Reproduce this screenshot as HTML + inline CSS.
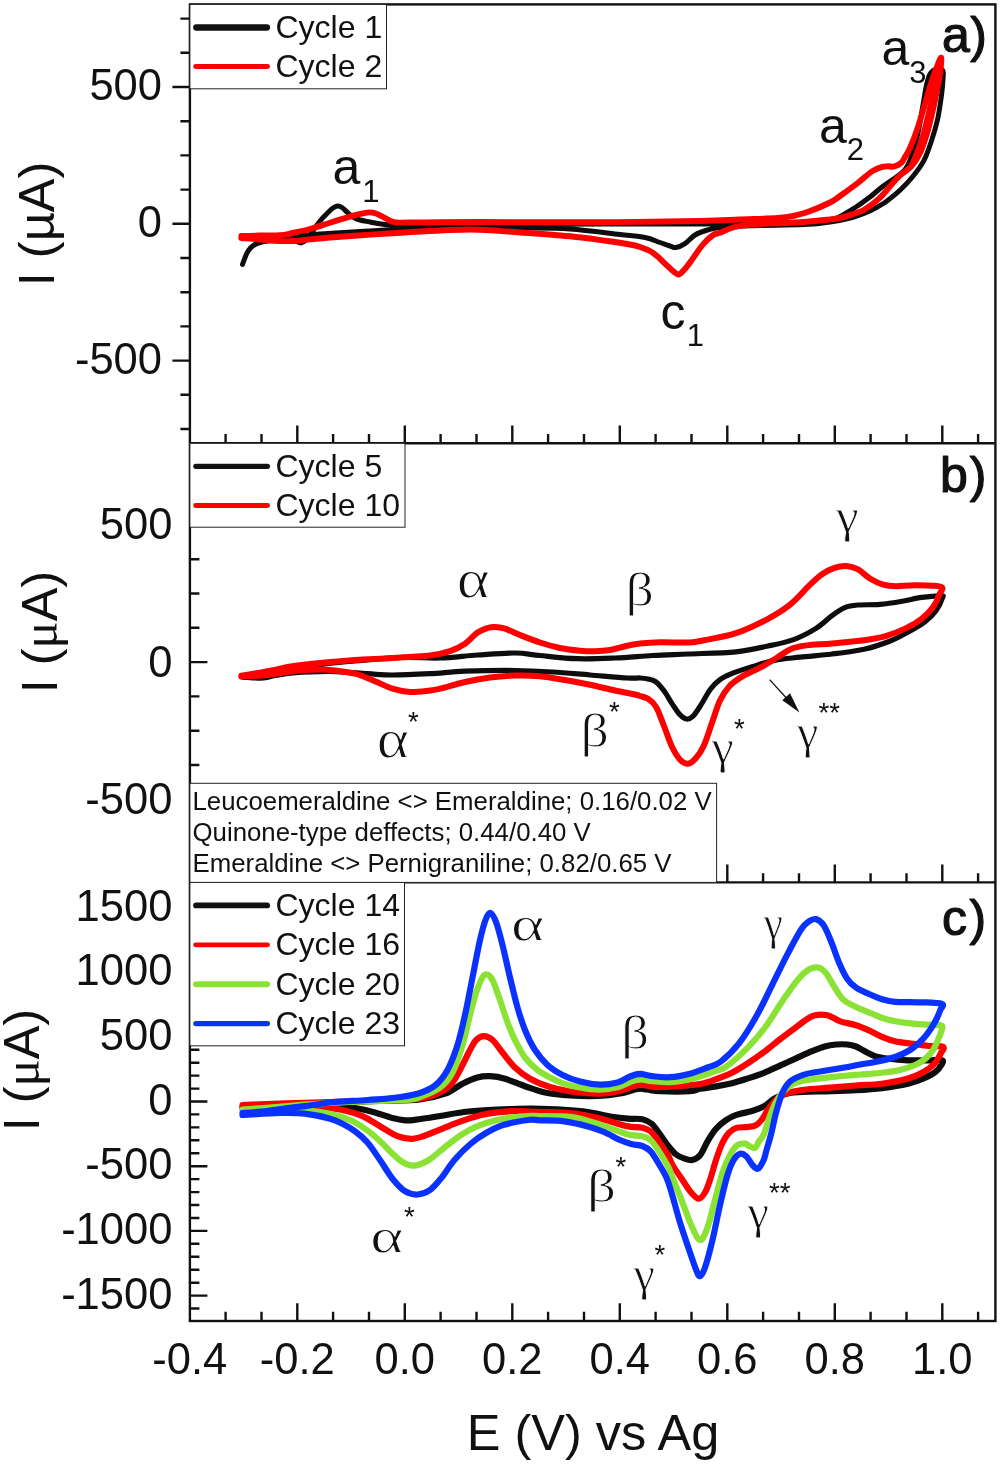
<!DOCTYPE html>
<html lang="en"><head><meta charset="utf-8"><title>Cyclic voltammetry</title>
<style>html,body{margin:0;padding:0;background:#fff}body{width:1000px;height:1466px;overflow:hidden}svg{display:block}text{font-family:"Liberation Sans",sans-serif;fill:#111}.sym{font-family:"Liberation Serif","DejaVu Serif",serif}.c{fill:none;stroke-linejoin:round;stroke-linecap:round}</style></head><body>
<svg width="1000" height="1466" viewBox="0 0 1000 1466">
<rect width="1000" height="1466" fill="#fff"/>
<path class="c" d="M242.5 264.5C242.8 263.6 243.8 260.9 244.5 259.0C245.2 257.1 246.0 254.8 247.0 253.0C248.0 251.2 249.2 249.4 250.5 248.0C251.8 246.6 253.1 245.5 255.0 244.5C256.9 243.5 259.2 242.7 262.0 242.0C264.8 241.3 268.2 240.9 272.0 240.5C275.8 240.1 281.3 239.5 285.0 239.5C288.7 239.5 291.3 239.9 294.0 240.5C296.7 241.1 299.0 243.1 301.0 243.0C303.0 242.9 304.2 241.8 306.0 240.0C307.8 238.2 309.7 235.2 312.0 232.0C314.3 228.8 317.3 224.2 320.0 221.0C322.7 217.8 325.8 214.7 328.0 212.5C330.2 210.3 331.4 209.1 333.0 208.0C334.6 206.9 336.0 206.1 337.5 206.0C339.0 205.9 340.3 206.4 342.0 207.5C343.7 208.6 345.7 210.9 347.5 212.5C349.3 214.1 350.9 215.8 353.0 217.0C355.1 218.2 357.2 219.2 360.0 220.0C362.8 220.8 365.8 221.2 370.0 222.0C374.2 222.8 379.2 223.9 385.0 224.5C390.8 225.1 395.8 225.4 405.0 225.5C414.2 225.6 427.5 225.2 440.0 225.0C452.5 224.8 453.3 224.7 480.0 224.5C506.7 224.3 563.3 224.1 600.0 224.0C636.7 223.9 670.0 224.0 700.0 224.0C730.0 224.0 760.5 224.1 780.0 224.0C799.5 223.9 807.8 224.1 817.0 223.3C826.2 222.5 828.5 221.7 835.0 219.0C841.5 216.3 850.2 210.7 856.0 207.0C861.8 203.3 865.7 200.3 870.0 197.0C874.3 193.7 877.8 190.2 882.0 187.0C886.2 183.8 891.1 181.0 895.0 178.0C898.9 175.0 902.6 172.8 905.4 169.0C908.2 165.2 909.8 161.3 912.0 155.0C914.2 148.7 916.6 139.3 918.4 131.0C920.2 122.7 921.6 112.7 923.0 105.0C924.4 97.3 925.3 90.2 926.5 85.0C927.7 79.8 928.4 76.7 930.0 74.0C931.6 71.3 933.9 69.7 936.0 69.0C938.1 68.3 941.3 68.8 942.5 70.0C943.7 71.2 943.4 71.8 943.2 76.0C943.0 80.2 942.5 88.0 941.5 95.3C940.5 102.6 939.2 112.2 937.5 119.8C935.8 127.4 933.8 133.9 931.5 140.7C929.2 147.5 927.1 154.5 924.0 160.4C920.9 166.3 916.9 171.4 913.0 176.3C909.1 181.2 904.8 185.7 900.5 189.8C896.2 193.9 891.2 197.8 887.0 200.9C882.8 204.0 878.7 206.2 875.0 208.3C871.3 210.4 868.4 211.7 864.6 213.2C860.8 214.7 858.1 216.0 852.3 217.5C846.5 219.0 838.0 220.8 830.0 222.0C822.0 223.2 815.7 224.0 804.0 224.6C792.3 225.2 772.3 225.2 760.0 225.5C747.7 225.8 736.7 226.2 730.0 226.5C723.3 226.8 723.8 226.9 720.0 227.5C716.2 228.1 711.7 228.8 707.5 230.0C703.3 231.2 698.8 232.7 695.0 235.0C691.2 237.3 688.2 241.6 685.0 243.7C681.8 245.8 678.5 247.1 676.0 247.5C673.5 247.9 672.7 246.8 670.0 246.0C667.3 245.2 664.2 243.9 660.0 242.5C655.8 241.1 651.7 238.8 645.0 237.5C638.3 236.2 632.5 235.9 620.0 234.5C607.5 233.1 586.7 230.1 570.0 229.0C553.3 227.9 536.7 228.2 520.0 228.0C503.3 227.8 488.3 227.4 470.0 227.5C451.7 227.6 428.3 228.0 410.0 228.7C391.7 229.4 376.2 230.5 360.0 231.5C343.8 232.5 322.5 233.8 312.5 234.5C302.5 235.2 304.6 235.3 300.0 236.0C295.4 236.7 290.0 237.9 285.0 238.5C280.0 239.1 277.0 239.6 270.0 239.5C263.0 239.4 247.5 238.2 243.0 238.0" stroke="#0d0d0d" stroke-width="5"/>
<path class="c" d="M241.3 236.0C244.4 235.9 253.6 235.6 260.0 235.5C266.4 235.4 274.6 235.7 280.0 235.3C285.4 234.9 287.5 234.1 292.5 233.0C297.5 231.9 303.8 230.7 310.0 229.0C316.2 227.3 324.2 224.5 330.0 222.7C335.8 220.9 340.8 219.4 345.0 218.2C349.2 216.9 352.0 216.0 355.0 215.2C358.0 214.4 360.5 213.8 363.0 213.3C365.5 212.8 367.8 212.4 370.0 212.4C372.2 212.4 374.2 212.9 376.0 213.5C377.8 214.1 379.3 215.0 381.0 215.8C382.7 216.6 384.3 217.6 386.0 218.5C387.7 219.4 389.2 220.6 391.0 221.3C392.8 222.0 393.8 222.3 397.0 222.5C400.2 222.7 396.2 222.6 410.0 222.5C423.8 222.4 448.3 222.0 480.0 222.0C511.7 222.0 563.3 222.5 600.0 222.3C636.7 222.1 676.7 221.5 700.0 221.0C723.3 220.5 727.0 220.0 740.0 219.5C753.0 219.0 768.8 218.7 778.0 218.0C787.2 217.3 789.8 216.6 795.0 215.5C800.2 214.4 803.2 213.8 809.0 211.6C814.8 209.4 824.8 205.1 830.0 202.5C835.2 199.9 835.3 199.3 840.0 196.0C844.7 192.7 853.1 186.6 858.4 182.5C863.7 178.4 868.1 174.0 872.0 171.4C875.9 168.8 879.1 167.9 881.8 167.1C884.5 166.2 886.0 166.4 888.0 166.3C890.0 166.2 891.8 167.1 894.0 166.5C896.2 165.9 899.6 164.4 901.4 162.8C903.2 161.2 903.6 159.5 905.0 157.0C906.4 154.5 907.9 152.8 910.0 148.0C912.1 143.2 915.0 135.8 917.5 128.4C920.0 121.1 922.6 111.9 925.0 103.9C927.4 95.9 929.8 87.3 932.0 80.5C934.2 73.7 936.8 67.0 938.3 63.3C939.8 59.6 941.1 56.1 941.3 58.4C941.5 60.6 940.4 70.6 939.5 76.8C938.6 83.0 937.2 89.1 936.0 95.3C934.8 101.5 933.5 107.4 932.0 113.7C930.5 120.0 929.0 126.8 927.0 133.3C925.0 139.9 922.6 147.5 920.0 153.0C917.4 158.5 914.7 162.6 911.2 166.5C907.7 170.4 902.7 172.8 899.0 176.3C895.3 179.8 892.4 183.7 889.1 187.4C885.8 191.1 883.4 194.7 879.3 198.4C875.2 202.1 869.1 206.8 864.6 209.5C860.1 212.2 856.4 213.0 852.3 214.4C848.2 215.8 843.7 217.2 840.0 218.0C836.3 218.8 836.0 218.7 830.0 219.4C824.0 220.1 817.0 221.1 804.0 222.0C791.0 222.9 763.5 223.8 752.0 224.6C740.5 225.4 740.2 225.7 735.0 227.0C729.8 228.3 724.5 231.0 720.8 232.4C717.0 233.8 715.5 233.4 712.5 235.5C709.5 237.6 706.2 240.5 702.5 245.0C698.8 249.5 693.1 258.3 690.0 262.5C686.9 266.7 685.9 268.0 684.0 270.0C682.1 272.0 680.5 274.3 678.7 274.5C676.9 274.7 675.3 272.8 673.0 271.0C670.7 269.2 667.7 266.2 665.0 263.7C662.3 261.2 659.5 258.1 657.0 256.0C654.5 253.9 652.8 252.5 650.0 251.0C647.2 249.5 642.9 248.0 640.0 247.0C637.1 246.0 637.9 246.0 632.5 245.0C627.1 244.0 617.9 242.4 607.5 241.0C597.1 239.6 584.6 237.7 570.0 236.3C555.4 234.9 536.7 233.6 520.0 232.5C503.3 231.4 489.2 229.5 470.0 229.5C450.8 229.5 428.3 231.2 405.0 232.5C381.7 233.8 348.8 236.1 330.0 237.5C311.2 238.9 302.5 240.5 292.5 241.0C282.5 241.5 276.2 240.8 270.0 240.5C263.8 240.2 259.8 239.4 255.0 239.0C250.2 238.6 243.6 238.2 241.3 238.0" stroke="#ff0000" stroke-width="5.9"/>
<path class="c" d="M941.0 60.0C940.7 61.3 939.8 65.0 939.0 68.0C938.2 71.0 937.1 73.5 936.0 78.0C934.9 82.5 933.8 89.3 932.5 95.3C931.2 101.2 930.0 107.4 928.5 113.7C927.0 120.0 925.2 127.3 923.5 133.3C921.8 139.4 920.0 144.5 918.0 150.0C916.0 155.5 912.3 163.8 911.2 166.5" stroke="#ff0000" stroke-width="5.5"/>
<path class="c" d="M241.3 677.0C243.6 677.2 250.7 677.9 255.0 678.0C259.3 678.1 260.8 678.8 267.0 677.5C273.2 676.2 284.1 672.1 292.5 670.0C300.9 667.9 307.1 666.5 317.5 665.0C327.9 663.5 341.2 662.2 355.0 661.0C368.8 659.8 385.8 658.0 400.0 657.5C414.2 657.0 427.1 658.4 440.0 658.0C452.9 657.6 465.0 655.8 477.5 655.0C490.0 654.2 504.6 652.9 515.0 653.0C525.4 653.1 529.6 654.5 540.0 655.5C550.4 656.5 565.0 658.3 577.5 658.7C590.0 659.1 602.5 658.5 615.0 658.0C627.5 657.5 640.3 656.2 652.5 655.5C664.7 654.8 674.1 654.6 688.0 654.0C701.9 653.4 722.7 653.1 736.0 651.8C749.3 650.5 758.4 648.0 768.0 646.0C777.6 644.0 785.6 642.5 793.6 639.6C801.6 636.7 809.6 632.4 816.0 628.4C822.4 624.4 827.2 619.1 832.0 615.6C836.8 612.1 840.5 609.4 844.8 607.6C849.1 605.8 851.7 605.5 857.6 605.0C863.5 604.5 872.5 605.0 880.0 604.4C887.5 603.8 895.5 602.4 902.4 601.2C909.3 600.0 915.2 598.3 921.6 597.4C928.0 596.5 937.3 595.7 940.8 595.8C944.3 595.9 943.2 595.5 942.4 598.0C941.6 600.5 938.9 606.8 936.0 610.8C933.1 614.8 929.3 618.5 924.8 622.0C920.3 625.5 914.7 628.4 908.8 631.6C902.9 634.8 897.1 638.3 889.6 641.2C882.1 644.1 873.6 647.1 864.0 649.2C854.4 651.3 842.7 652.7 832.0 654.0C821.3 655.3 809.6 656.1 800.0 657.2C790.4 658.3 782.4 658.8 774.4 660.4C766.4 662.0 758.9 664.7 752.0 666.8C745.1 668.9 738.1 671.1 732.8 673.2C727.5 675.3 723.7 676.9 720.0 679.6C716.3 682.3 713.6 684.9 710.4 689.2C707.2 693.5 703.7 700.7 700.8 705.2C697.9 709.7 695.2 714.1 692.8 716.4C690.4 718.7 688.5 719.3 686.4 719.0C684.3 718.7 682.4 717.4 680.0 714.8C677.6 712.2 674.7 707.6 672.0 703.6C669.3 699.6 666.7 694.4 664.0 690.8C661.3 687.2 658.7 683.8 656.0 681.8C653.3 679.8 650.7 679.6 648.0 679.0C645.3 678.4 643.4 678.2 640.0 678.0C636.6 677.8 635.8 678.5 627.5 678.0C619.2 677.5 602.5 676.0 590.0 675.0C577.5 674.0 565.0 672.8 552.5 672.0C540.0 671.2 529.6 670.6 515.0 670.5C500.4 670.4 479.2 670.7 465.0 671.2C450.8 671.7 442.1 673.1 430.0 673.7C417.9 674.3 402.9 675.0 392.5 675.0C382.1 675.0 377.9 674.3 367.5 673.7C357.1 673.1 342.5 671.6 330.0 671.5C317.5 671.4 302.9 672.2 292.5 673.0C282.1 673.8 276.0 675.8 267.5 676.5C259.0 677.2 245.7 676.9 241.3 677.0" stroke="#0d0d0d" stroke-width="5.2"/>
<path class="c" d="M241.3 675.7C245.7 675.0 259.0 672.8 267.5 671.2C276.0 669.6 284.2 667.5 292.5 666.2C300.8 664.9 307.1 664.2 317.5 663.2C327.9 662.2 342.5 660.9 355.0 660.0C367.5 659.1 380.0 658.8 392.5 658.0C405.0 657.2 420.4 656.6 430.0 655.5C439.6 654.4 444.2 653.2 450.0 651.2C455.8 649.2 460.4 646.8 465.0 643.7C469.6 640.6 473.8 635.1 477.5 632.5C481.2 629.9 484.6 628.9 487.5 628.0C490.4 627.1 492.1 626.9 495.0 627.0C497.9 627.1 500.8 627.4 505.0 628.7C509.2 630.0 514.2 632.7 520.0 635.0C525.8 637.3 533.3 640.3 540.0 642.5C546.7 644.7 553.3 646.6 560.0 648.0C566.7 649.4 574.2 650.2 580.0 650.7C585.8 651.2 590.0 651.3 595.0 651.2C600.0 651.1 605.0 650.8 610.0 650.0C615.0 649.2 620.0 647.3 625.0 646.2C630.0 645.1 634.2 644.2 640.0 643.6C645.8 643.0 651.7 642.5 660.0 642.3C668.3 642.1 682.7 642.9 690.0 642.5C697.3 642.1 696.3 641.8 704.0 640.2C711.7 638.7 725.3 636.8 736.0 633.2C746.7 629.6 758.9 623.6 768.0 618.8C777.1 614.0 783.5 610.0 790.4 604.4C797.3 598.8 804.3 590.3 809.6 585.2C814.9 580.1 818.1 576.9 822.4 574.0C826.7 571.1 831.2 568.9 835.2 567.6C839.2 566.3 842.7 565.7 846.4 566.0C850.1 566.3 853.6 567.1 857.6 569.2C861.6 571.3 866.1 576.2 870.4 578.8C874.7 581.4 878.9 583.4 883.2 584.6C887.5 585.8 890.7 586.1 896.0 586.2C901.3 586.3 907.7 585.1 915.2 585.2C922.7 585.3 936.8 585.2 940.8 586.8C944.8 588.4 940.5 591.3 939.2 594.8C937.9 598.3 935.7 603.6 932.8 607.6C929.9 611.6 926.1 615.3 921.6 618.8C917.1 622.3 911.5 625.6 905.6 628.4C899.7 631.2 893.3 633.8 886.4 635.8C879.5 637.8 873.1 638.9 864.0 640.2C854.9 641.5 841.6 642.5 832.0 643.4C822.4 644.3 813.3 644.4 806.4 645.4C799.5 646.4 795.2 647.2 790.4 649.2C785.6 651.2 782.4 654.3 777.6 657.2C772.8 660.1 767.5 663.6 761.6 666.8C755.7 670.0 747.7 673.2 742.4 676.4C737.1 679.6 733.3 682.0 729.6 686.0C725.9 690.0 722.9 694.3 720.0 700.4C717.1 706.5 714.7 715.3 712.0 722.8C709.3 730.3 706.7 739.3 704.0 745.2C701.3 751.1 698.7 754.9 696.0 758.0C693.3 761.1 690.7 763.5 688.0 763.8C685.3 764.1 682.7 762.4 680.0 759.6C677.3 756.8 674.7 752.4 672.0 746.8C669.3 741.2 666.7 732.7 664.0 726.0C661.3 719.3 658.7 711.3 656.0 706.8C653.3 702.3 650.7 700.6 648.0 698.8C645.3 697.0 642.2 696.7 640.0 696.0C637.8 695.3 639.2 695.4 635.0 694.5C630.8 693.6 622.5 692.1 615.0 690.5C607.5 688.9 598.3 686.5 590.0 684.8C581.7 683.0 573.3 681.4 565.0 680.0C556.7 678.6 548.3 677.0 540.0 676.2C531.7 675.5 523.3 675.3 515.0 675.5C506.7 675.7 498.3 676.4 490.0 677.5C481.7 678.6 473.3 680.1 465.0 682.0C456.7 683.9 445.8 687.3 440.0 688.7C434.2 690.1 435.0 690.0 430.0 690.5C425.0 691.0 416.2 692.3 410.0 692.0C403.8 691.7 398.3 690.5 392.5 688.7C386.7 686.9 381.2 683.7 375.0 681.2C368.8 678.7 361.7 675.5 355.0 673.7C348.3 671.9 341.2 671.2 335.0 670.5C328.8 669.8 324.6 669.4 317.5 669.5C310.4 669.6 300.8 670.3 292.5 671.2C284.2 672.1 276.0 674.2 267.5 675.0C259.0 675.8 245.7 676.0 241.3 676.2" stroke="#ff0000" stroke-width="6"/>
<path d="M769.6 679.6L790 702" stroke="#111" stroke-width="1.3" fill="none"/><path d="M799.4 712.4L782.3 700.2L790 693.2Z" fill="#111"/>
<path class="c" d="M242.5 1107.0C248.8 1106.7 265.4 1105.8 280.0 1105.0C294.6 1104.2 313.3 1103.2 330.0 1102.5C346.7 1101.8 365.0 1101.5 380.0 1101.0C395.0 1100.5 409.2 1100.7 420.0 1099.5C430.8 1098.3 437.9 1096.3 445.0 1093.7C452.1 1091.1 457.1 1086.4 462.5 1083.7C467.9 1081.0 472.9 1078.8 477.5 1077.5C482.1 1076.2 485.4 1076.0 490.0 1076.2C494.6 1076.4 499.2 1077.0 505.0 1078.7C510.8 1080.4 518.3 1083.9 525.0 1086.2C531.7 1088.5 537.5 1091.0 545.0 1092.5C552.5 1094.0 561.2 1094.9 570.0 1095.5C578.8 1096.1 589.7 1096.3 598.0 1096.0C606.3 1095.7 613.4 1094.7 620.0 1093.5C626.6 1092.3 633.0 1089.7 637.5 1089.0C642.0 1088.3 643.2 1089.1 647.0 1089.5C650.8 1089.9 652.8 1090.9 660.0 1091.2C667.2 1091.5 683.3 1091.6 690.0 1091.2C696.7 1090.8 695.7 1089.6 700.0 1088.8C704.3 1088.0 710.7 1087.3 716.0 1086.4C721.3 1085.5 726.7 1084.5 732.0 1083.2C737.3 1081.9 742.7 1080.1 748.0 1078.4C753.3 1076.7 758.7 1074.9 764.0 1072.8C769.3 1070.7 774.7 1068.0 780.0 1065.6C785.3 1063.2 790.7 1060.8 796.0 1058.4C801.3 1056.0 807.2 1053.2 812.0 1051.2C816.8 1049.2 820.8 1047.5 824.8 1046.4C828.8 1045.3 832.3 1044.8 836.0 1044.5C839.7 1044.2 843.9 1044.2 847.2 1044.5C850.5 1044.8 853.4 1045.5 856.0 1046.5C858.6 1047.5 860.0 1048.7 863.0 1050.3C866.0 1051.9 870.2 1054.5 874.2 1055.9C878.2 1057.3 881.6 1057.8 887.2 1058.5C892.8 1059.2 901.1 1060.0 908.0 1060.3C914.9 1060.6 923.2 1060.3 928.8 1060.3C934.4 1060.3 939.6 1059.6 941.8 1060.3C944.0 1061.0 942.9 1062.2 941.8 1064.2C940.7 1066.2 938.3 1069.6 935.3 1072.0C932.3 1074.4 928.1 1076.5 923.6 1078.5C919.1 1080.5 914.9 1082.1 908.0 1083.7C901.1 1085.3 890.7 1087.0 882.0 1088.1C873.3 1089.2 866.8 1089.6 856.0 1090.2C845.2 1090.8 827.8 1091.1 817.0 1091.5C806.2 1091.9 797.9 1091.7 791.0 1092.8C784.1 1093.9 779.7 1095.8 775.4 1098.0C771.1 1100.2 768.9 1103.6 765.0 1105.8C761.1 1108.0 756.8 1109.5 752.0 1111.0C747.2 1112.5 740.7 1113.4 736.4 1114.9C732.1 1116.4 729.5 1117.7 726.0 1120.1C722.5 1122.5 718.6 1125.7 715.6 1129.2C712.6 1132.7 710.4 1136.6 707.8 1140.9C705.2 1145.2 702.6 1152.0 700.0 1155.2C697.4 1158.4 694.7 1159.5 692.0 1160.0C689.3 1160.5 686.7 1159.3 684.0 1158.4C681.3 1157.5 678.7 1156.5 676.0 1154.4C673.3 1152.3 670.7 1148.9 668.0 1145.6C665.3 1142.3 662.7 1138.0 660.0 1134.4C657.3 1130.8 654.9 1126.5 652.0 1124.0C649.1 1121.5 646.4 1120.1 642.4 1119.2C638.4 1118.3 633.1 1119.1 628.0 1118.7C622.9 1118.3 618.7 1117.9 612.0 1116.8C605.3 1115.7 596.0 1113.2 588.0 1112.0C580.0 1110.8 573.2 1110.3 564.0 1109.8C554.8 1109.2 541.2 1108.8 532.5 1108.7C523.8 1108.6 519.4 1108.9 512.0 1109.1C504.6 1109.3 496.0 1109.5 488.0 1110.0C480.0 1110.5 472.0 1111.0 464.0 1112.0C456.0 1113.0 448.0 1114.7 440.0 1116.0C432.0 1117.3 421.8 1119.0 416.0 1119.7C410.2 1120.4 408.9 1120.6 405.0 1120.3C401.1 1120.0 397.5 1119.3 392.5 1118.0C387.5 1116.7 381.2 1114.2 375.0 1112.5C368.8 1110.8 362.5 1109.2 355.0 1108.0C347.5 1106.8 340.8 1105.8 330.0 1105.5C319.2 1105.2 304.6 1105.6 290.0 1106.0C275.4 1106.4 250.4 1107.7 242.5 1108.0" stroke="#0d0d0d" stroke-width="6.2"/>
<path class="c" d="M242.5 1105.0C248.8 1104.8 265.4 1104.0 280.0 1103.5C294.6 1103.0 313.3 1102.5 330.0 1102.0C346.7 1101.5 365.0 1101.0 380.0 1100.5C395.0 1100.0 410.0 1100.0 420.0 1098.7C430.0 1097.4 434.6 1095.2 440.0 1092.5C445.4 1089.8 448.8 1087.1 452.5 1082.5C456.2 1077.9 459.6 1070.4 462.5 1065.0C465.4 1059.6 467.7 1054.2 470.0 1050.0C472.3 1045.8 473.9 1042.3 476.2 1040.0C478.5 1037.7 481.0 1036.2 483.7 1036.2C486.4 1036.2 489.4 1037.3 492.5 1040.0C495.6 1042.7 498.8 1047.9 502.5 1052.5C506.2 1057.1 510.4 1063.1 515.0 1067.5C519.6 1071.9 524.2 1075.5 530.0 1078.7C535.8 1082.0 542.5 1084.8 550.0 1087.0C557.5 1089.2 566.7 1090.9 575.0 1092.0C583.3 1093.1 592.5 1093.8 600.0 1093.6C607.5 1093.4 614.6 1092.2 620.0 1091.0C625.4 1089.8 628.8 1087.5 632.5 1086.5C636.2 1085.5 638.8 1084.9 642.5 1085.0C646.2 1085.1 649.2 1086.8 655.0 1087.0C660.8 1087.2 670.0 1086.7 677.5 1086.2C685.0 1085.7 693.6 1085.2 700.0 1084.0C706.4 1082.8 710.7 1081.1 716.0 1079.2C721.3 1077.3 726.7 1075.5 732.0 1072.8C737.3 1070.1 742.7 1066.7 748.0 1063.2C753.3 1059.7 758.7 1056.0 764.0 1052.0C769.3 1048.0 774.7 1043.3 780.0 1039.2C785.3 1035.1 791.7 1030.4 796.0 1027.2C800.3 1024.0 802.8 1021.8 806.0 1019.8C809.2 1017.8 811.4 1016.0 815.0 1015.2C818.6 1014.5 823.2 1014.3 827.4 1015.3C831.6 1016.3 835.6 1019.6 840.4 1021.3C845.2 1022.9 851.2 1023.7 856.0 1025.2C860.8 1026.7 864.7 1028.5 869.0 1030.4C873.3 1032.4 877.7 1035.1 882.0 1036.9C886.3 1038.7 889.8 1040.1 895.0 1041.3C900.2 1042.5 907.6 1043.1 913.2 1043.9C918.8 1044.7 923.8 1045.5 928.8 1046.0C933.8 1046.5 941.1 1045.5 943.1 1046.8C945.1 1048.1 942.0 1050.9 940.5 1053.8C939.0 1056.7 936.8 1061.2 934.0 1064.2C931.2 1067.2 927.9 1069.6 923.6 1072.0C919.3 1074.4 914.9 1076.5 908.0 1078.5C901.1 1080.5 890.7 1082.5 882.0 1083.7C873.3 1084.9 864.7 1084.8 856.0 1085.5C847.3 1086.2 838.7 1086.9 830.0 1087.6C821.3 1088.3 810.9 1088.8 804.0 1089.7C797.1 1090.6 792.7 1091.4 788.4 1092.8C784.1 1094.2 781.2 1095.4 778.0 1098.0C774.8 1100.6 771.5 1104.9 768.9 1108.4C766.3 1111.9 764.6 1116.0 762.4 1118.8C760.2 1121.6 758.5 1123.9 755.9 1125.3C753.3 1126.7 750.0 1126.7 746.8 1127.1C743.5 1127.5 739.4 1126.9 736.4 1127.9C733.4 1128.9 731.0 1130.5 728.6 1133.1C726.2 1135.7 724.2 1139.0 722.1 1143.5C720.0 1148.0 718.0 1153.9 716.0 1160.0C714.0 1166.1 711.8 1174.6 710.0 1180.0C708.2 1185.4 706.9 1189.4 705.0 1192.5C703.1 1195.6 701.0 1198.7 698.7 1198.7C696.4 1198.7 693.9 1195.6 691.2 1192.5C688.5 1189.4 685.6 1184.6 682.5 1180.0C679.4 1175.4 674.9 1169.1 672.5 1165.0C670.1 1160.9 670.4 1159.2 668.0 1155.2C665.6 1151.2 661.3 1144.8 658.4 1140.8C655.5 1136.8 653.1 1133.4 650.4 1131.2C647.7 1129.0 646.1 1128.5 642.4 1127.7C638.7 1126.9 633.1 1127.4 628.0 1126.4C622.9 1125.5 617.3 1123.5 612.0 1122.0C606.7 1120.5 602.7 1119.0 596.0 1117.6C589.3 1116.1 581.3 1114.2 572.0 1113.3C562.7 1112.4 550.0 1112.3 540.0 1112.0C530.0 1111.7 520.7 1110.9 512.0 1111.2C503.3 1111.5 494.7 1112.5 488.0 1113.6C481.3 1114.7 477.3 1116.0 472.0 1117.6C466.7 1119.2 461.3 1121.2 456.0 1123.2C450.7 1125.2 445.3 1127.5 440.0 1129.6C434.7 1131.7 428.8 1134.5 424.0 1136.0C419.2 1137.5 415.6 1138.9 411.2 1138.9C406.8 1138.9 402.7 1138.3 397.5 1136.2C392.3 1134.1 385.8 1129.5 380.0 1126.2C374.2 1122.9 368.8 1118.9 362.5 1116.2C356.2 1113.5 350.0 1111.5 342.5 1110.0C335.0 1108.5 327.9 1108.1 317.5 1107.5C307.1 1106.9 292.5 1106.8 280.0 1106.5C267.5 1106.2 248.8 1106.1 242.5 1106.0" stroke="#ff0000" stroke-width="6.2"/>
<path class="c" d="M242.5 1109.5C247.1 1109.2 259.6 1108.3 270.0 1107.5C280.4 1106.7 291.7 1105.4 305.0 1104.5C318.3 1103.6 333.3 1102.8 350.0 1102.0C366.7 1101.2 393.3 1100.8 405.0 1100.0C416.7 1099.2 414.2 1099.1 420.0 1097.0C425.8 1094.9 434.6 1091.6 440.0 1087.5C445.4 1083.4 448.8 1079.6 452.5 1072.5C456.2 1065.4 459.6 1054.6 462.5 1045.0C465.4 1035.4 467.7 1023.8 470.0 1015.0C472.3 1006.2 474.1 998.8 476.2 992.5C478.3 986.2 480.7 980.5 482.5 977.5C484.3 974.5 485.3 974.1 487.0 974.5C488.7 974.9 490.3 975.8 492.5 980.0C494.7 984.2 497.5 992.9 500.0 1000.0C502.5 1007.1 505.0 1015.8 507.5 1022.5C510.0 1029.2 512.1 1034.2 515.0 1040.0C517.9 1045.8 521.2 1052.5 525.0 1057.5C528.8 1062.5 532.9 1066.5 537.5 1070.0C542.1 1073.5 547.1 1076.1 552.5 1078.7C557.9 1081.3 562.6 1083.7 570.0 1085.5C577.4 1087.3 589.1 1089.2 597.0 1089.5C604.9 1089.8 612.0 1088.5 617.5 1087.2C623.0 1086.0 626.2 1083.3 630.0 1082.0C633.8 1080.7 636.2 1079.6 640.0 1079.5C643.8 1079.4 647.1 1080.8 652.5 1081.2C657.9 1081.6 665.4 1082.5 672.5 1082.0C679.6 1081.5 687.9 1079.8 695.0 1078.0C702.1 1076.2 709.8 1073.1 715.0 1071.2C720.2 1069.3 720.7 1070.6 726.0 1066.8C731.3 1063.0 740.3 1055.1 746.8 1048.6C753.3 1042.0 758.9 1035.6 765.0 1027.5C771.1 1019.4 777.6 1008.0 783.2 999.8C788.8 991.6 794.5 983.5 798.8 978.4C803.1 973.3 806.0 971.1 809.2 969.3C812.5 967.5 815.5 966.9 818.3 967.5C821.1 968.1 823.5 970.1 826.1 973.2C828.7 976.3 831.1 981.9 833.9 986.2C836.7 990.5 839.3 995.7 843.0 999.2C846.7 1002.7 851.2 1004.6 856.0 1007.0C860.8 1009.4 866.4 1011.4 871.6 1013.5C876.8 1015.6 881.1 1017.9 887.2 1019.5C893.3 1021.1 901.1 1022.2 908.0 1023.1C914.9 1024.0 923.2 1024.3 928.8 1024.7C934.4 1025.1 939.8 1024.5 941.8 1025.7C943.8 1026.9 941.6 1029.6 941.0 1032.0C940.4 1034.4 939.3 1037.0 938.0 1040.0C936.7 1043.0 935.2 1046.8 933.0 1050.0C930.8 1053.2 928.0 1056.5 925.0 1059.0C922.0 1061.5 919.2 1063.2 915.0 1065.0C910.8 1066.8 905.8 1068.7 900.0 1070.0C894.2 1071.3 886.7 1072.2 880.0 1073.0C873.3 1073.8 866.2 1074.0 860.0 1074.5C853.8 1075.0 851.5 1075.1 843.0 1076.0C834.5 1076.9 817.4 1078.5 809.2 1079.8C801.0 1081.1 797.9 1081.8 793.6 1083.7C789.3 1085.7 786.2 1088.2 783.2 1091.5C780.2 1094.8 777.8 1098.7 775.4 1103.2C773.0 1107.8 770.8 1113.6 768.9 1118.8C767.0 1124.0 765.4 1130.5 763.7 1134.4C762.0 1138.3 760.0 1139.9 758.5 1142.2C757.0 1144.5 756.5 1147.3 755.0 1148.0C753.5 1148.7 751.1 1146.8 749.4 1146.1C747.7 1145.4 747.0 1143.9 745.0 1143.7C743.0 1143.5 740.0 1143.1 737.5 1145.0C735.0 1146.9 732.5 1150.4 730.0 1155.0C727.5 1159.6 725.0 1165.0 722.5 1172.5C720.0 1180.0 717.5 1190.8 715.0 1200.0C712.5 1209.2 710.0 1220.8 707.5 1227.5C705.0 1234.2 702.7 1240.4 700.0 1240.0C697.3 1239.6 694.1 1231.2 691.2 1225.0C688.3 1218.8 685.6 1210.4 682.5 1202.5C679.4 1194.6 674.9 1183.5 672.5 1177.5C670.1 1171.5 670.4 1170.9 668.0 1166.4C665.6 1161.9 661.3 1154.8 658.4 1150.4C655.5 1146.0 653.1 1142.3 650.4 1140.0C647.7 1137.7 646.1 1137.2 642.4 1136.3C638.7 1135.4 633.1 1135.7 628.0 1134.4C622.9 1133.2 617.3 1130.7 612.0 1128.8C606.7 1126.9 602.7 1125.2 596.0 1123.2C589.3 1121.2 581.3 1118.2 572.0 1117.0C562.7 1115.8 548.7 1116.1 540.0 1116.0C531.3 1115.9 527.3 1115.8 520.0 1116.5C512.7 1117.2 503.2 1118.6 496.0 1120.3C488.8 1122.0 482.7 1123.9 476.8 1126.4C470.9 1128.9 466.1 1131.7 460.8 1135.2C455.5 1138.7 450.1 1143.1 444.8 1147.2C439.5 1151.3 433.9 1156.9 428.8 1160.0C423.7 1163.1 418.8 1165.3 414.4 1165.6C410.0 1165.9 406.6 1164.4 402.5 1162.0C398.4 1159.6 394.2 1155.1 390.0 1151.2C385.8 1147.3 381.7 1142.5 377.5 1138.7C373.3 1135.0 369.6 1131.8 365.0 1128.7C360.4 1125.6 355.8 1122.5 350.0 1120.0C344.2 1117.5 337.5 1115.3 330.0 1113.7C322.5 1112.1 315.0 1111.2 305.0 1110.5C295.0 1109.8 280.4 1109.6 270.0 1109.5C259.6 1109.4 247.1 1109.9 242.5 1110.0" stroke="#8ae234" stroke-width="6.2"/>
<path class="c" d="M242.5 1113.0C246.6 1112.7 258.8 1111.9 267.0 1111.0C275.2 1110.1 285.7 1108.3 292.0 1107.5C298.3 1106.7 298.7 1107.0 305.0 1106.2C311.3 1105.4 319.6 1103.5 330.0 1102.5C340.4 1101.5 357.1 1100.8 367.5 1100.0C377.9 1099.2 384.2 1099.0 392.5 1098.0C400.8 1097.0 410.4 1095.8 417.5 1093.7C424.6 1091.6 430.0 1089.5 435.0 1085.5C440.0 1081.5 443.8 1076.8 447.5 1070.0C451.2 1063.2 454.6 1054.2 457.5 1045.0C460.4 1035.8 462.5 1026.2 465.0 1015.0C467.5 1003.8 470.0 990.0 472.5 977.5C475.0 965.0 477.8 949.6 480.0 940.0C482.2 930.4 483.8 924.5 485.5 920.0C487.2 915.5 488.7 912.6 490.5 913.0C492.3 913.4 494.2 917.2 496.2 922.5C498.2 927.8 500.2 935.8 502.5 945.0C504.8 954.2 507.5 967.1 510.0 977.5C512.5 987.9 515.0 998.8 517.5 1007.5C520.0 1016.2 522.1 1022.9 525.0 1030.0C527.9 1037.1 531.2 1044.2 535.0 1050.0C538.8 1055.8 542.9 1060.8 547.5 1065.0C552.1 1069.2 557.1 1072.2 562.5 1075.0C567.9 1077.8 573.8 1079.9 580.0 1081.5C586.2 1083.1 593.8 1084.4 600.0 1084.6C606.2 1084.8 612.5 1083.8 617.5 1082.5C622.5 1081.2 626.2 1077.9 630.0 1076.5C633.8 1075.1 636.2 1074.0 640.0 1073.9C643.8 1073.9 647.5 1075.7 652.5 1076.2C657.5 1076.8 663.8 1077.6 670.0 1077.2C676.2 1076.8 683.8 1075.3 690.0 1073.7C696.2 1072.1 702.4 1069.5 707.5 1067.5C712.6 1065.5 715.5 1065.6 720.8 1061.6C726.0 1057.6 732.9 1051.2 739.0 1043.4C745.1 1035.6 751.6 1024.8 757.2 1014.8C762.8 1004.8 767.6 994.0 772.8 983.6C778.0 973.2 783.6 961.5 788.4 952.4C793.2 943.3 797.9 934.2 801.4 929.0C804.9 923.8 806.8 922.9 809.2 921.2C811.6 919.6 813.3 918.5 815.7 919.1C818.1 919.8 820.9 921.3 823.5 925.1C826.1 928.9 828.7 935.7 831.3 942.0C833.9 948.3 836.5 956.7 839.1 962.8C841.7 968.9 844.1 974.3 846.9 978.4C849.7 982.5 852.3 984.9 856.0 987.5C859.7 990.1 864.7 992.0 869.0 994.0C873.3 996.0 877.7 997.9 882.0 999.2C886.3 1000.5 888.5 1001.3 895.0 1001.8C901.5 1002.3 913.2 1001.9 921.0 1002.3C928.8 1002.6 938.6 1002.6 941.8 1003.9C945.0 1005.2 941.3 1007.3 940.3 1010.0C939.3 1012.7 937.7 1016.7 936.0 1020.0C934.3 1023.3 932.3 1026.7 930.0 1030.0C927.7 1033.3 925.3 1036.7 922.0 1040.0C918.7 1043.3 914.5 1047.2 910.0 1050.0C905.5 1052.8 900.8 1055.0 895.0 1057.0C889.2 1059.0 880.8 1060.8 875.0 1062.0C869.2 1063.2 865.3 1063.5 860.0 1064.5C854.7 1065.5 850.2 1066.5 843.0 1067.8C835.8 1069.0 823.5 1070.9 817.0 1072.0C810.5 1073.1 808.4 1073.1 804.0 1074.6C799.6 1076.1 794.0 1078.2 790.5 1081.1C787.0 1084.0 785.1 1087.0 782.8 1092.0C780.5 1097.0 778.5 1103.9 776.5 1111.0C774.5 1118.1 772.8 1127.6 771.0 1134.4C769.2 1141.2 767.2 1147.7 766.0 1152.0C764.8 1156.3 765.0 1157.2 763.7 1160.0C762.4 1162.8 759.9 1167.9 758.0 1168.7C756.1 1169.5 754.5 1167.1 752.5 1165.0C750.5 1162.9 748.3 1158.1 746.2 1156.2C744.1 1154.3 742.1 1153.1 740.0 1153.7C737.9 1154.3 735.8 1156.5 733.7 1160.0C731.6 1163.5 729.8 1167.5 727.5 1175.0C725.2 1182.5 722.5 1194.2 720.0 1205.0C717.5 1215.8 715.0 1229.6 712.5 1240.0C710.0 1250.4 707.1 1261.5 705.0 1267.5C702.9 1273.5 701.5 1275.8 700.0 1276.2C698.5 1276.6 697.9 1274.0 696.2 1270.0C694.5 1266.0 692.7 1260.4 690.0 1252.5C687.3 1244.6 683.1 1232.5 680.0 1222.5C676.9 1212.5 673.8 1200.0 671.5 1192.5C669.2 1185.0 668.6 1182.5 666.4 1177.6C664.2 1172.7 661.1 1167.6 658.4 1163.2C655.7 1158.8 653.1 1154.1 650.4 1151.2C647.7 1148.3 645.6 1147.2 642.4 1146.0C639.2 1144.8 634.9 1145.0 631.2 1144.0C627.5 1143.0 624.5 1142.0 620.0 1140.0C615.5 1138.0 609.3 1134.3 604.0 1132.0C598.7 1129.7 594.7 1128.2 588.0 1126.4C581.3 1124.6 572.0 1122.3 564.0 1121.3C556.0 1120.3 546.0 1120.5 540.0 1120.3C534.0 1120.1 534.0 1119.2 528.0 1120.0C522.0 1120.8 510.9 1122.7 504.0 1124.8C497.1 1126.9 492.0 1129.6 486.4 1132.8C480.8 1136.0 475.7 1139.5 470.4 1144.0C465.1 1148.5 459.3 1154.3 454.4 1160.0C449.5 1165.7 445.1 1173.4 441.0 1178.4C436.9 1183.4 433.9 1187.3 430.0 1190.0C426.1 1192.7 421.7 1194.3 417.5 1194.5C413.3 1194.7 409.2 1193.8 405.0 1191.2C400.8 1188.6 396.7 1183.9 392.5 1178.7C388.3 1173.5 384.2 1166.0 380.0 1160.0C375.8 1154.0 371.7 1147.3 367.5 1142.5C363.3 1137.7 359.2 1134.3 355.0 1131.2C350.8 1128.1 346.7 1125.8 342.5 1123.7C338.3 1121.6 336.2 1120.4 330.0 1118.7C323.8 1117.0 313.3 1114.7 305.0 1113.7C296.7 1112.8 290.4 1112.8 280.0 1113.0C269.6 1113.2 248.8 1114.7 242.5 1115.0" stroke="#0a32ff" stroke-width="6.2"/>
<g stroke="#111" stroke-width="2.4" fill="none" stroke-linecap="butt">
<rect x="189.9" y="4.4" width="805.5" height="1316.6"/>
<line x1="189.9" y1="443.3" x2="995.4" y2="443.3"/>
<line x1="189.9" y1="882.4" x2="995.4" y2="882.4"/>
<path d="M225.6 443.3v-9.2M261.5 443.3v-9.2M297.3 443.3v-17.8M333.1 443.3v-9.2M369.0 443.3v-9.2M404.8 443.3v-17.8M440.6 443.3v-9.2M476.5 443.3v-9.2M512.3 443.3v-17.8M548.1 443.3v-9.2M584.0 443.3v-9.2M619.8 443.3v-17.8M655.6 443.3v-9.2M691.5 443.3v-9.2M727.3 443.3v-17.8M763.1 443.3v-9.2M799.0 443.3v-9.2M834.8 443.3v-17.8M870.6 443.3v-9.2M906.5 443.3v-9.2M942.3 443.3v-17.8M978.1 443.3v-9.2M225.6 882.4v-9.2M261.5 882.4v-9.2M297.3 882.4v-17.8M333.1 882.4v-9.2M369.0 882.4v-9.2M404.8 882.4v-17.8M440.6 882.4v-9.2M476.5 882.4v-9.2M512.3 882.4v-17.8M548.1 882.4v-9.2M584.0 882.4v-9.2M619.8 882.4v-17.8M655.6 882.4v-9.2M691.5 882.4v-9.2M727.3 882.4v-17.8M763.1 882.4v-9.2M799.0 882.4v-9.2M834.8 882.4v-17.8M870.6 882.4v-9.2M906.5 882.4v-9.2M942.3 882.4v-17.8M978.1 882.4v-9.2M225.6 1321.0v-9.2M261.5 1321.0v-9.2M297.3 1321.0v-17.8M333.1 1321.0v-9.2M369.0 1321.0v-9.2M404.8 1321.0v-17.8M440.6 1321.0v-9.2M476.5 1321.0v-9.2M512.3 1321.0v-17.8M548.1 1321.0v-9.2M584.0 1321.0v-9.2M619.8 1321.0v-17.8M655.6 1321.0v-9.2M691.5 1321.0v-9.2M727.3 1321.0v-17.8M763.1 1321.0v-9.2M799.0 1321.0v-9.2M834.8 1321.0v-17.8M870.6 1321.0v-9.2M906.5 1321.0v-9.2M942.3 1321.0v-17.8M978.1 1321.0v-9.2M189.9 429.0h-9.5M189.9 394.8h-9.5M189.9 360.6h-17.5M189.9 326.4h-9.5M189.9 292.2h-9.5M189.9 258.0h-9.5M189.9 223.8h-17.5M189.9 189.6h-9.5M189.9 155.4h-9.5M189.9 121.2h-9.5M189.9 87.0h-17.5M189.9 52.8h-9.5M189.9 18.6h-9.5M189.9 867.9h9.5M189.9 833.6h9.5M189.9 799.3h17.5M189.9 765.0h9.5M189.9 730.7h9.5M189.9 696.4h9.5M189.9 662.1h17.5M189.9 627.8h9.5M189.9 593.5h9.5M189.9 559.2h9.5M189.9 524.9h17.5M189.9 490.6h9.5M189.9 456.3h9.5M189.9 1308.5h9.5M189.9 1295.6h17.5M189.9 1282.7h9.5M189.9 1269.7h9.5M189.9 1256.8h9.5M189.9 1243.8h9.5M189.9 1230.9h17.5M189.9 1218.0h9.5M189.9 1205.0h9.5M189.9 1192.1h9.5M189.9 1179.1h9.5M189.9 1166.2h17.5M189.9 1153.3h9.5M189.9 1140.3h9.5M189.9 1127.4h9.5M189.9 1114.4h9.5M189.9 1101.5h17.5M189.9 1088.6h9.5M189.9 1075.6h9.5M189.9 1062.7h9.5M189.9 1049.7h9.5M189.9 1036.8h17.5M189.9 1023.9h9.5M189.9 1010.9h9.5M189.9 998.0h9.5M189.9 985.0h9.5M189.9 972.1h17.5M189.9 959.2h9.5M189.9 946.2h9.5M189.9 933.3h9.5M189.9 920.3h9.5M189.9 907.4h17.5M189.9 894.5h9.5"/>
</g>
<g font-size="43.5" text-anchor="end">
<text x="162" y="100.1">500</text>
<text x="162" y="236.9">0</text>
<text x="162" y="373.7">-500</text>
<text x="172.4" y="539.3">500</text>
<text x="172.4" y="676.5">0</text>
<text x="172.4" y="813.7">-500</text>
<text x="172.4" y="920.5">1500</text>
<text x="172.4" y="985.2">1000</text>
<text x="172.4" y="1049.9">500</text>
<text x="172.4" y="1114.6">0</text>
<text x="172.4" y="1179.3">-500</text>
<text x="172.4" y="1244.0">-1000</text>
<text x="172.4" y="1308.7">-1500</text>
</g>
<g font-size="43.5" text-anchor="middle">
<text x="189.8" y="1373.5">-0.4</text>
<text x="297.3" y="1373.5">-0.2</text>
<text x="404.8" y="1373.5">0.0</text>
<text x="512.3" y="1373.5">0.2</text>
<text x="619.8" y="1373.5">0.4</text>
<text x="727.3" y="1373.5">0.6</text>
<text x="834.8" y="1373.5">0.8</text>
<text x="942.3" y="1373.5">1.0</text>
</g>
<text font-size="50.5" text-anchor="middle" x="593" y="1449.5">E (V) vs Ag</text>
<text font-size="50.5" text-anchor="middle" transform="translate(53.6 224) rotate(-90)">I (µA)</text>
<text font-size="50.5" text-anchor="middle" transform="translate(56.6 632.1) rotate(-90)">I (<tspan class="sym">μ</tspan>A)</text>
<text font-size="50.5" text-anchor="middle" transform="translate(39.3 1070.1) rotate(-90)">I (<tspan class="sym">μ</tspan>A)</text>
<g font-size="50" stroke="#111" stroke-width="1.2" stroke-linejoin="round">
<text x="942" y="52">a<tspan dx="0.5">)</tspan></text>
<text x="940" y="492">b<tspan dx="2">)</tspan></text>
<text x="942" y="934.5">c<tspan dx="2.5">)</tspan></text>
</g>
<rect x="189.9" y="4.4" width="196.6" height="84.39999999999999" fill="#fff" stroke="#222" stroke-width="1"/>
<line x1="196.3" y1="27.5" x2="266.9" y2="27.5" stroke="#111" stroke-width="6.3" stroke-linecap="round"/>
<text font-size="32" x="275.5" y="38">Cycle 1</text>
<line x1="195.6" y1="66.5" x2="267.6" y2="66.5" stroke="#f00" stroke-width="4.8" stroke-linecap="round"/>
<text font-size="32" x="275.5" y="77">Cycle 2</text>
<rect x="189.9" y="443.3" width="215.1" height="83.90000000000003" fill="#fff" stroke="#222" stroke-width="1"/>
<line x1="195.8" y1="466.3" x2="267.4" y2="466.3" stroke="#111" stroke-width="5.2" stroke-linecap="round"/>
<text font-size="32" x="275.5" y="476.8">Cycle 5</text>
<line x1="195.6" y1="505.5" x2="267.6" y2="505.5" stroke="#f00" stroke-width="4.8" stroke-linecap="round"/>
<text font-size="32" x="275.5" y="516.0">Cycle 10</text>
<rect x="189.9" y="882.4" width="214.6" height="163.39999999999998" fill="#fff" stroke="#222" stroke-width="1"/>
<line x1="196.1" y1="905.4" x2="267.1" y2="905.4" stroke="#111" stroke-width="5.9" stroke-linecap="round"/>
<text font-size="32" x="275.5" y="915.9">Cycle 14</text>
<line x1="195.6" y1="944.8" x2="267.6" y2="944.8" stroke="#f00" stroke-width="4.8" stroke-linecap="round"/>
<text font-size="32" x="275.5" y="955.3">Cycle 16</text>
<line x1="196.1" y1="984.2" x2="267.1" y2="984.2" stroke="#8ae234" stroke-width="5.9" stroke-linecap="round"/>
<text font-size="32" x="275.5" y="994.6999999999999">Cycle 20</text>
<line x1="195.8" y1="1023.6" x2="267.4" y2="1023.6" stroke="#0a32ff" stroke-width="5.2" stroke-linecap="round"/>
<text font-size="32" x="275.5" y="1034.1">Cycle 23</text>
<rect x="189.9" y="783.3" width="526.7" height="99.10000000000002" fill="#fff" stroke="#222" stroke-width="1"/>
<g font-size="25.8">
<text x="192.5" y="810.3">Leucoemeraldine &lt;&gt; Emeraldine; 0.16/0.02 V</text>
<text x="192.5" y="841.4">Quinone-type deffects; 0.44/0.40 V</text>
<text x="192.5" y="872.3">Emeraldine &lt;&gt; Pernigraniline; 0.82/0.65 V</text>
</g>
<g font-size="50">
<text x="332.5" y="184.3">a<tspan font-size="31" dy="18" dx="2">1</tspan></text>
<text x="819" y="142.8">a<tspan font-size="31" dy="17.5">2</tspan></text>
<text x="881.5" y="65">a<tspan font-size="31" dy="17.5">3</tspan></text>
<text x="660.5" y="328.8">c<tspan font-size="31" dy="17.5" dx="1.2">1</tspan></text>
</g>
<text class="sym" font-size="50" stroke="#fff" stroke-width="0.9" transform="translate(456.7 597.0) scale(1.252 1.087)">α</text>
<text class="sym" font-size="50" stroke="#fff" stroke-width="0.9" transform="translate(625.4 606.3) scale(1.120 0.953)">β</text>
<text class="sym" font-size="50" stroke="#fff" stroke-width="0.9" transform="translate(836.0 532.0) scale(1.024 0.956)">γ</text>
<text class="sym" font-size="50" stroke="#fff" stroke-width="0.9" transform="translate(376.7 757.0) scale(1.226 1.087)">α</text>
<text font-size="27.5" x="408.0" y="730.8">*</text>
<text class="sym" font-size="50" stroke="#fff" stroke-width="0.9" transform="translate(580.6 747.1) scale(1.120 0.953)">β</text>
<text font-size="27.5" x="609.0" y="720.8">*</text>
<text class="sym" font-size="50" stroke="#fff" stroke-width="0.9" transform="translate(711.6 763.1) scale(1.010 0.953)">γ</text>
<text font-size="27.5" x="734.0" y="738.0">*</text>
<text class="sym" font-size="50" stroke="#fff" stroke-width="0.9" transform="translate(797.1 747.9) scale(0.967 0.979)">γ</text>
<text font-size="27.5" x="818.6" y="722.3">**</text>
<text class="sym" font-size="50" stroke="#fff" stroke-width="0.9" transform="translate(511.1 941.2) scale(1.274 1.030)">α</text>
<text class="sym" font-size="50" stroke="#fff" stroke-width="0.9" transform="translate(621.2 1048.7) scale(1.095 0.964)">β</text>
<text class="sym" font-size="50" stroke="#fff" stroke-width="0.9" transform="translate(763.7 939.3) scale(0.867 0.956)">γ</text>
<text class="sym" font-size="50" stroke="#fff" stroke-width="0.9" transform="translate(370.3 1253.0) scale(1.270 1.022)">α</text>
<text font-size="27.5" x="403.9" y="1225.8">*</text>
<text class="sym" font-size="50" stroke="#fff" stroke-width="0.9" transform="translate(587.0 1201.6) scale(1.140 0.945)">β</text>
<text font-size="27.5" x="615.4" y="1176.0">*</text>
<text class="sym" font-size="50" stroke="#fff" stroke-width="0.9" transform="translate(633.6 1289.6) scale(0.971 0.974)">γ</text>
<text font-size="27.5" x="654.6" y="1264.1">*</text>
<text class="sym" font-size="50" stroke="#fff" stroke-width="0.9" transform="translate(747.6 1228.0) scale(0.971 0.988)">γ</text>
<text font-size="27.5" x="769.1" y="1202.4">**</text>
</svg></body></html>
